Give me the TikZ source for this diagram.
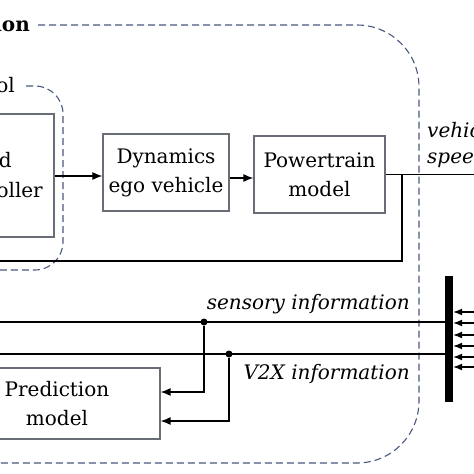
\documentclass[tikz,border=0pt]{standalone}
\usepackage{fontspec}
\setmainfont{DejaVu Serif}
\usetikzlibrary{arrows.meta}
\definecolor{dashcol}{RGB}{72,88,125}
\definecolor{boxgray}{RGB}{105,110,118}
\begin{document}
\begin{tikzpicture}[x=1pt,y=-1pt,
  txt/.style={font=\fontsize{20}{29}\selectfont, inner sep=0pt},
  itxt/.style={font=\fontsize{20}{29}\selectfont\itshape, inner sep=0pt},
  blockbox/.style={draw=boxgray, line width=1.1pt, align=center, inner sep=0pt,
     font=\fontsize{20}{29}\selectfont},
  sig/.style={black, line width=1.4pt},
  arr/.style={sig, -{Latex[length=10pt,width=8pt]}},
  grp/.style={dashcol, line width=1.1pt, dash pattern=on 7pt off 4pt},
  jdot/.style={circle, fill=black, inner sep=0pt, minimum size=7pt}
]
\useasboundingbox (0,0) rectangle (474,474);
\clip (0,0) rectangle (474,474);

% group outlines
\draw[grp, rounded corners=62pt] (38,25) -- (419,25) -- (419,463) -- (-10,463);
\node[txt, font=\fontsize{20}{29}\selectfont\bfseries, anchor=base east] (simlbl) at (30,31) {ion};
\draw[grp, rounded corners=28pt] (26,86) -- (63,86) -- (63,270) -- (-10,270);
\node[txt, anchor=base east] (ctrllbl) at (15,92) {ol};

% blocks
\node[blockbox, minimum width=84pt, minimum height=123pt] (ctrl) at (12,175.5) {};
\node[txt, anchor=base east] (ctrlA) at (12,167) {d};
\node[txt, anchor=base east] (ctrlB) at (43,197) {oller};
\node[blockbox, minimum width=126pt, minimum height=77pt] (dyn) at (166,172.5) {Dynamics\\ego vehicle};
\node[blockbox, minimum width=131pt, minimum height=77pt] (pt) at (319.5,174.5) {Powertrain\\model};
\node[blockbox, minimum width=206pt, minimum height=71pt] (pred) at (57,403.5) {Prediction\\model};

% bus bar
\node[fill=black, inner sep=0pt, minimum width=8pt, minimum height=126pt] (bar) at (449,339) {};

% forward chain
\draw[arr] ([yshift=-0.5pt]ctrl.east) -- ([yshift=-0.5pt]ctrl.east -| dyn.west);
\draw[arr] ([yshift=-5.5pt]dyn.east) -- ([yshift=-5.5pt]dyn.east -| pt.west);
\coordinate (vout) at (480,174.5);
\draw[sig] (pt.east) -- (vout);
\coordinate (br) at (402,174.5);
\coordinate (fbend) at (-5,261);
\draw[sig] (br) |- (fbend);
\node[itxt, anchor=base west] (vlbl1) at (427,137) {vehicle};
\node[itxt, anchor=base west] (vlbl2) at (427,163) {speed};

% information lines
\coordinate (sL) at (-5,322);
\coordinate (vL) at (-5,354);
\draw[sig] (sL) -- (sL -| bar.west);
\draw[sig] (vL) -- (vL -| bar.west);
\node[itxt, anchor=base east] (slbl) at (410,309) {sensory information};
\node[itxt, anchor=base east] (v2xlbl) at (410,379) {V2X information};
\node[jdot] (d1) at (204,322) {};
\node[jdot] (d2) at (229,354) {};
\draw[arr] (d1) |- ([yshift=11.5pt]pred.east);
\draw[arr] (d2) |- ([yshift=-17.5pt]pred.east);

% incoming arrows at the bar
\foreach \yy [count=\i] in {312,323,335,346,357,367} {
  \coordinate (r\i) at (480,\yy);
  \draw[sig, line width=1.1pt, -{Latex[length=9pt,width=7pt]}] (r\i) -- (r\i -| bar.east);
}
\end{tikzpicture}
\end{document}
